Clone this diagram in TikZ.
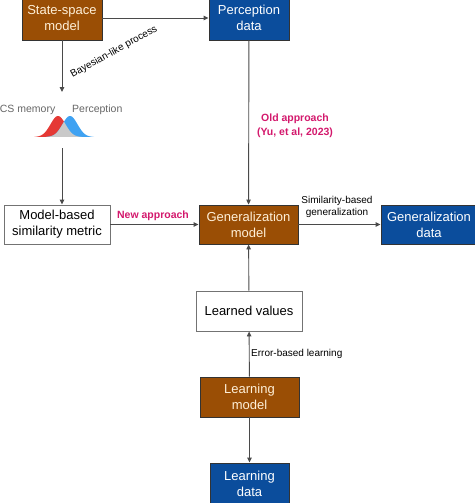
\documentclass[tikz,border=0pt]{standalone}
\usepackage{fontspec}
\setmainfont{Liberation Sans}
\usetikzlibrary{arrows.meta}
\definecolor{brownbox}{HTML}{9A4E05}
\definecolor{bluebox}{HTML}{0B4D9C}
\definecolor{browntext}{HTML}{FFF0D8}
\definecolor{pinklab}{HTML}{D3186C}
\definecolor{linecol}{HTML}{4A4A4A}
\definecolor{redg}{HTML}{E53935}
\definecolor{blueg}{HTML}{3FA2F2}
\definecolor{greyg}{HTML}{C9C9C9}
\tikzset{
  boxbase/.style={rectangle, inner sep=0pt, align=center, font=\fontsize{13}{16}\selectfont, line width=0.9pt},
  brownnode/.style={boxbase, fill=brownbox, draw=black!80, text=browntext},
  bluenode/.style={boxbase, fill=bluebox, draw=black!80, text=white},
  whitenode/.style={boxbase, fill=white, draw=black!55, text=black},
  conn/.style={draw=linecol, line width=0.9pt, -{Triangle[length=5pt,width=4.5pt]}},
  lab/.style={inner sep=0pt, align=center, font=\fontsize{10}{12}\selectfont, text=black},
  pinklabel/.style={inner sep=0pt, align=center, font=\fontsize{10.5}{14}\selectfont\bfseries, text=pinklab},
  greylabel/.style={inner sep=0pt, font=\fontsize{10.5}{12}\selectfont, text=black!60}
}
\begin{document}
\begin{tikzpicture}[x=1pt,y=-1pt]
\useasboundingbox (0,0) rectangle (474,503);
% nodes
\node[brownnode, minimum width=80pt, minimum height=44pt] (ssm) at (62,18) {State-space\\model};
\node[bluenode, minimum width=80pt, minimum height=44pt] (pd) at (249,18) {Perception\\data};
\node[whitenode, minimum width=106pt, minimum height=39pt] (msm) at (57,224.5) {Model-based\\similarity metric};
\node[brownnode, minimum width=99pt, minimum height=39pt] (gm) at (248.5,224.5) {Generalization\\model};
\node[bluenode, minimum width=96pt, minimum height=39pt] (gd) at (429,224.5) {Generalization\\data};
\node[whitenode, minimum width=106pt, minimum height=40pt] (lv) at (249,311) {Learned values};
\node[brownnode, minimum width=99pt, minimum height=40pt] (lm) at (249.5,397) {Learning\\model};
\node[bluenode, minimum width=79pt, minimum height=42pt] (ld) at (249.5,484) {Learning\\data};
% gaussians
\fill[redg] plot[domain=34:88, samples=80, smooth] (\x,{137-21*exp(-((\x-58)^2)/(2*7.5^2))}) -- cycle;
\fill[blueg] plot[domain=46:94, samples=80, smooth] (\x,{137-21*exp(-((\x-70)^2)/(2*7.5^2))}) -- cycle;
\fill[greyg] plot[domain=46:82, samples=80, smooth] (\x,{137-21*min(exp(-((\x-58)^2)/(2*7.5^2)),exp(-((\x-70)^2)/(2*7.5^2)))}) -- cycle;
\node[greylabel, anchor=east] (csm) at (55.5,110) {CS memory};
\node[greylabel, anchor=west] (perc) at (72,110) {Perception};
\coordinate (g1) at (62,92);
\coordinate (g2) at (62,148);
% connectors
\draw[conn] (ssm) -- (pd);
\draw[conn] (ssm.south -| g1) -- (g1);
\draw[conn] (g2) -- (g2 |- msm.north);
\draw[conn] (pd) -- (gm);
\draw[conn] (msm) -- (gm);
\draw[conn] (gm) -- (gd);
\draw[conn] (lv) -- (gm);
\draw[conn] (lm) -- (lv);
\draw[conn] (lm) -- (ld);
% labels
\node[lab, rotate=29] (bay) at (114,52) {Bayesian-like process};
\node[pinklabel] (old) at (295,126) {Old approach\\(Yu, et al, 2023)};
\node[pinklabel] (new) at (153,216) {New approach};
\node[lab] (sim) at (337,207) {Similarity-based\\generalization};
\node[lab, anchor=west] (err) at (251,354) {Error-based learning};
\end{tikzpicture}
\end{document}
